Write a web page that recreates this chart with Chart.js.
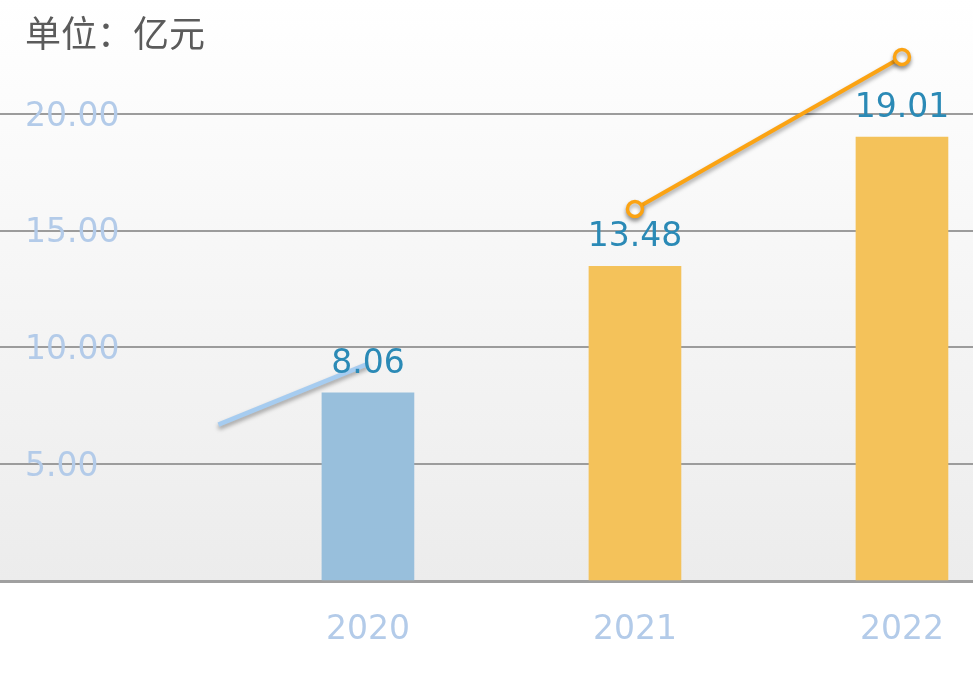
<!DOCTYPE html>
<html>
<head>
<meta charset="utf-8">
<script src="https://cdn.jsdelivr.net/npm/chart.js@4.4.1/dist/chart.umd.min.js"></script>
<style>
    html, body { margin: 0; padding: 0; background: #fff; }
    #wrap { position: relative; width: 973px; height: 688px; overflow: hidden; }
    /* the line points force ~11px of layout padding, so the canvas is shifted to hide it */
    #chart { position: absolute; left: -11px; top: -11px; }
    #unit {
        position: absolute; left: 25px; top: 5px;
        font-family: 'Noto Sans CJK SC', sans-serif; font-size: 36px;
        color: #5b5b5b; z-index: 2;
    }
</style>
</head>
<body>
<div id="wrap">
    <canvas id="chart" width="995" height="699"></canvas>
    <div id="unit">单位：亿元</div>
</div>
<script>
// ========== DATA ==========
const years = [2020, 2021, 2022];
const revenue = [8.06, 13.48, 19.01];
const barColors = ['#98bfdc', '#f4c25a', '#f4c25a'];
// trend lines (same vertical scale)
const blueLineX = [2019.44, 2020];
const blueLineY = [6.7, 9.3];
const orangeLineX = [2021, 2022];
const orangeLineY = [15.93, 22.44];
const yTicks = [0, 5, 10, 15, 20];

const FONT = "'DejaVu Sans', Verdana, sans-serif";

// chart area background: light vertical gradient
const bgPlugin = {
    id: 'bg',
    beforeDraw(chart) {
        const { ctx, chartArea: a } = chart;
        const g = ctx.createLinearGradient(0, a.top, 0, a.bottom);
        g.addColorStop(0, '#ffffff');
        g.addColorStop(1, '#ececec');
        ctx.save();
        ctx.fillStyle = g;
        ctx.fillRect(a.left, a.top, a.right - a.left, a.bottom - a.top);
        ctx.restore();
    }
};

// soft drop shadow under the line series
const shadowPlugin = {
    id: 'lineShadow',
    beforeDatasetDraw(chart, args) {
        if (chart.data.datasets[args.index].type !== 'line') return;
        const ctx = chart.ctx;
        ctx.save();
        ctx.shadowColor = 'rgba(0,0,0,0.35)';
        ctx.shadowBlur = 4;
        ctx.shadowOffsetY = 3;
    },
    afterDatasetDraw(chart, args) {
        if (chart.data.datasets[args.index].type !== 'line') return;
        chart.ctx.restore();
    }
};

// value labels above the bars
const valueLabels = {
    id: 'valueLabels',
    afterDatasetsDraw(chart) {
        const { ctx } = chart;
        const meta = chart.getDatasetMeta(0);
        ctx.save();
        ctx.font = `33px ${FONT}`;
        ctx.fillStyle = '#2b8ab6';
        ctx.textAlign = 'center';
        ctx.textBaseline = 'bottom';
        meta.data.forEach((bar, i) => {
            ctx.fillText(revenue[i].toFixed(2), bar.x, bar.y - 12);
        });
        ctx.restore();
    }
};

new Chart(document.getElementById('chart'), {
    data: {
        datasets: [
            {
                type: 'bar',
                data: years.map((x, i) => ({ x, y: revenue[i] })),
                backgroundColor: barColors,
                barThickness: 92,
                order: 3,
            },
            {
                type: 'line',
                data: blueLineX.map((x, i) => ({ x, y: blueLineY[i] })),
                borderColor: '#a6ccf0',
                borderWidth: 4.5,
                pointRadius: 0,
                order: 2,
            },
            {
                type: 'line',
                data: orangeLineX.map((x, i) => ({ x, y: orangeLineY[i] })),
                borderColor: '#fba313',
                borderWidth: 4,
                pointRadius: 7.5,
                pointBorderWidth: 3.5,
                pointBackgroundColor: '#ffffff',
                pointBorderColor: '#fba313',
                order: 1,
            },
        ],
    },
    options: {
        responsive: false,
        animation: false,
        layout: { padding: 0 },
        plugins: {
            legend: { display: false },
            tooltip: { enabled: false },
        },
        scales: {
            x: {
                type: 'linear',
                offset: false,
                min: 2018.622,
                max: 2022.266,
                afterBuildTicks: scale => { scale.ticks = years.map(v => ({ value: v })); },
                afterFit: scale => {
                    scale.height = 107;
                    scale.paddingLeft = 0;
                    scale.paddingRight = 0;
                },
                grid: { display: false, drawTicks: false, offset: false },
                border: { display: true, color: '#a0a0a0', width: 3 },
                ticks: {
                    color: '#b3cbe9',
                    font: { family: FONT, size: 33 },
                    padding: 30,
                    callback: v => String(v),
                },
            },
            y: {
                min: 0,
                max: 24.88,
                afterBuildTicks: scale => { scale.ticks = yTicks.map(v => ({ value: v })); },
                afterFit: scale => {
                    scale.width = 0;
                    scale.paddingTop = 0;
                    scale.paddingBottom = 0;
                },
                grid: { color: '#9c9c9c', lineWidth: 2, drawTicks: false },
                border: { display: false },
                ticks: {
                    mirror: true,
                    padding: 25,
                    labelOffset: 3,
                    color: '#b3cbe9',
                    font: { family: FONT, size: 33 },
                    callback: v => (v === 0 ? '' : v.toFixed(2)),
                },
            },
        },
    },
    plugins: [bgPlugin, shadowPlugin, valueLabels],
});
</script>
</body>
</html>
